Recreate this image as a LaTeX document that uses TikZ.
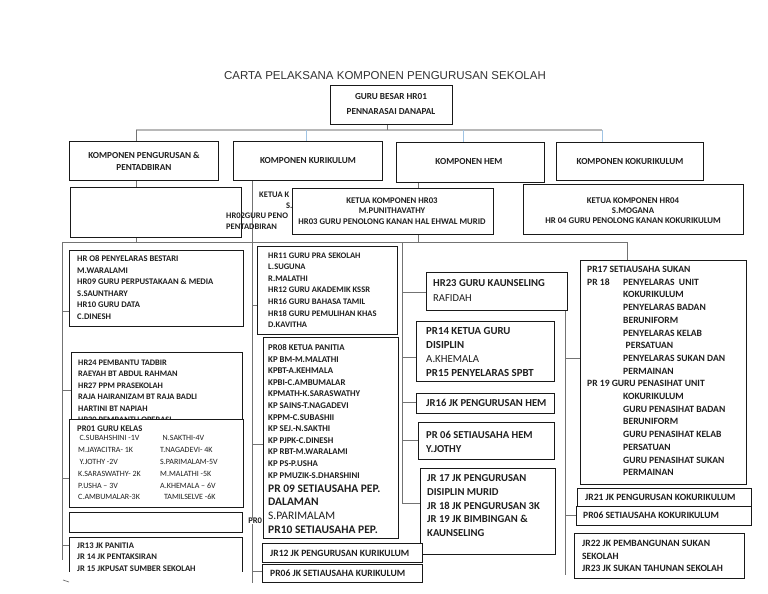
\documentclass[tikz,border=0pt]{standalone}
\usepackage{fontspec}
\setmainfont{Carlito}
\newfontfamily\titlefont{Liberation Sans}
\definecolor{lb}{RGB}{160,196,228}
\newcommand\myfs[2]{\fontsize{#1}{#2}\selectfont}
\pgfdeclarelayer{bg}
\pgfdeclarelayer{paper}
\pgfsetlayers{paper,bg,main}
\tikzset{
  bx/.style={draw=black!90, line width=0.9pt, fill=white, inner sep=0pt, anchor=north west},
  conn/.style={draw=black!55, line width=0.7pt},
  topline/.style={draw=black!28, line width=1.6pt},
  blueline/.style={draw=lb, line width=0.8pt},
  tl/.style={anchor=north west, inner sep=0pt, align=left, text=black!88},
  tc/.style={inner sep=0pt, align=center, text=black!88},
  t1/.style={anchor=west, inner sep=0pt, text=black!88},
}
\begin{document}
\begin{tikzpicture}[x=1pt,y=-1pt]
\begin{pgfonlayer}{paper}
\fill[white] (0,0) rectangle (768,594);
\end{pgfonlayer}
\useasboundingbox (0,0) rectangle (768,594);

% title
\node[text=black!80, inner sep=0pt, font=\titlefont\fontsize{11.5}{14}\selectfont] (title) at (385,76) {CARTA PELAKSANA KOMPONEN PENGURUSAN SEKOLAH};

% guru besar
\node[bx, minimum width=122pt, minimum height=39pt] (gb) at (330,85) {};
\node[tc, font=\myfs{9.2}{15}\bfseries] (gbt) at (391,104.5) {GURU BESAR HR01\\PENNARASAI DANAPAL};

% components
\node[bx, minimum width=149pt, minimum height=39pt] (kpp) at (69,141) {};
\node[tc, font=\myfs{9.2}{12}\bfseries] (kppt) at (144,161) {KOMPONEN PENGURUSAN \&\\PENTADBIRAN};
\node[bx, minimum width=149pt, minimum height=39pt] (kk) at (233,141) {};
\node[tc, font=\myfs{9.2}{12}\bfseries] (kkt) at (308,161) {KOMPONEN KURIKULUM};
\node[bx, minimum width=148pt, minimum height=40pt] (khem) at (396,142) {};
\node[tc, font=\myfs{9.2}{12}\bfseries] (khemt) at (469,162) {KOMPONEN HEM};
\node[bx, minimum width=147pt, minimum height=38pt] (kko) at (556,142) {};
\node[tc, font=\myfs{9.2}{12}\bfseries] (kkot) at (630,162) {KOMPONEN KOKURIKULUM};

% row 2
\node[bx, minimum width=171pt, minimum height=50pt] (eb) at (70,187) {};
\node[t1, font=\myfs{8.5}{10}\bfseries] (k2a) at (259,195) {KETUA K};
\node[t1, font=\myfs{8.5}{10}\bfseries] (k2b) at (286,206) {S.};
\node[t1, font=\myfs{8.5}{10}\bfseries] (k2c) at (226,216) {HR02GURU PENO};
\node[t1, font=\myfs{8.5}{10}\bfseries] (k2d) at (226,227) {PENTADBIRAN};
\node[bx, minimum width=201pt, minimum height=46pt] (hr03) at (292,188) {};
\node[tc, anchor=north, font=\myfs{8.7}{10.5}\bfseries] (hr03t) at (392,197.3) {KETUA KOMPONEN HR03\\M.PUNITHAVATHY\\HR03 GURU PENOLONG KANAN HAL EHWAL MURID};
\node[bx, minimum width=220pt, minimum height=50pt] (hr04) at (523,184) {};
\node[tc, anchor=north, font=\myfs{8.8}{10}\bfseries] (hr04t) at (633,197.2) {KETUA KOMPONEN HR04\\S.MOGANA\\HR 04 GURU PENOLONG KANAN KOKURIKULUM};

% pentadbiran column
\node[bx, minimum width=174pt, minimum height=76pt] (hr08) at (69,250) {};
\node[tl, font=\myfs{8.6}{11.6}\bfseries] (hr08t) at (77,255.3) {HR O8 PENYELARAS BESTARI\\M.WARALAMI\\HR09 GURU PERPUSTAKAAN \& MEDIA\\S.SAUNTHARY\\HR10 GURU DATA\\C.DINESH};
\node[bx, minimum width=171pt, minimum height=80pt] (hr24) at (71,352) {};
\node[tl, font=\myfs{8.4}{11.5}\bfseries] (hr24t) at (78,359.3) {HR24 PEMBANTU TADBIR\\RAEYAH BT ABDUL RAHMAN\\HR27 PPM PRASEKOLAH\\RAJA HAIRANIZAM BT RAJA BADLI\\HARTINI BT NAPIAH\\HR30 PEMBANTU OPERASI};
\node[bx, minimum width=174pt, minimum height=88pt] (pr01) at (69,419) {};
\node[tl, font=\myfs{8.6}{11}\bfseries] (pr01h) at (77,425.3) {PR01 GURU KELAS};
\node[tl, font=\myfs{8}{11.8}\mdseries] (pr01a) at (78,435.5) {\hspace*{1.5pt}C.SUBAHSHINI -1V\\M.JAYACITRA- 1K\\\hspace*{1.5pt}Y.JOTHY -2V\\K.SARASWATHY- 2K\\P.USHA -- 3V\\C.AMBUMALAR-3K};
\node[tl, font=\myfs{8}{11.8}\mdseries] (pr01b) at (160,435.5) {\hspace*{2.5pt}N.SAKTHI-4V\\T.NAGADEVI- 4K\\S.PARIMALAM-5V\\M.MALATHI -5K\\A.KHEMALA -- 6V\\\hspace*{4pt}TAMILSELVE -6K};
\node[bx, minimum width=173pt, minimum height=20pt] (eb2) at (69,512) {};
\begin{scope}
\clip (0,0) rectangle (768,571);
\node[bx, minimum width=173pt, minimum height=45pt] (jr13) at (69,537) {};
\node[tl, font=\myfs{8.6}{11.7}\bfseries] (jr13t) at (77,542.3) {JR13 JK PANITIA\\JR 14 JK PENTAKSIRAN\\JR 15 JKPUSAT SUMBER SEKOLAH};
\end{scope}

% kurikulum column
\node[bx, minimum width=140pt, minimum height=88pt] (hr11) at (257,246) {};
\node[tl, font=\myfs{8.5}{11.6}\bfseries] (hr11t) at (268,252.3) {HR11 GURU PRA SEKOLAH\\L.SUGUNA\\R.MALATHI\\HR12 GURU AKADEMIK KSSR\\HR16 GURU BAHASA TAMIL\\HR18 GURU PEMULIHAN KHAS\\D.KAVITHA};
\node[t1, fill=white, inner sep=0.6pt, font=\myfs{8.6}{10}\bfseries] (pr0) at (247.5,521) {PR0};
\node[bx, minimum width=135pt, minimum height=201pt] (pr08) at (263,337) {};
\node[tl, font=\myfs{8.8}{11.6}\bfseries] (pr08t) at (268,344.2) {PR08 KETUA PANITIA\\KP BM-M.MALATHI\\KPBT-A.KEHMALA\\KPBI-C.AMBUMALAR\\KPMATH-K.SARASWATHY\\KP SAINS-T.NAGADEVI\\KPPM-C.SUBASHII\\KP SEJ.-N.SAKTHI\\KP PJPK-C.DINESH\\KP RBT-M.WARALAMI\\KP PS-P.USHA\\KP PMUZIK-S.DHARSHINI};
\node[tl, font=\myfs{11.5}{13.7}\bfseries] (pr09t) at (268,484.4) {PR 09 SETIAUSAHA PEP.\\DALAMAN\\{\mdseries S.PARIMALAM}\\PR10 SETIAUSAHA PEP.};

% hem column
\node[bx, minimum width=141pt, minimum height=38pt] (hr23) at (426,272) {};
\node[tl, font=\myfs{10.6}{15}\bfseries] (hr23t) at (433,279.6) {HR23 GURU KAUNSELING\\{\mdseries RAFIDAH}};
\node[bx, minimum width=138pt, minimum height=60pt] (pr14) at (416,321) {};
\node[tl, font=\myfs{10.8}{14}\bfseries] (pr14t) at (426,327.6) {PR14 KETUA GURU\\DISIPLIN\\{\mdseries A.KHEMALA}\\PR15 PENYELARAS SPBT};
\node[bx, minimum width=138pt, minimum height=20pt] (jr16) at (416,393) {};
\node[t1, font=\myfs{10.6}{13}\bfseries] (jr16t) at (426,403) {JR16 JK PENGURUSAN HEM};
\node[bx, minimum width=136pt, minimum height=37pt] (pr06h) at (418,422) {};
\node[tl, font=\myfs{10.6}{14}\bfseries] (pr06ht) at (426,430.6) {PR 06 SETIAUSAHA HEM\\Y.JOTHY};
\node[bx, minimum width=135pt, minimum height=86pt] (jr17) at (420,468) {};
\node[tl, font=\myfs{10.6}{13.7}\bfseries] (jr17t) at (427,474.6) {JR 17 JK PENGURUSAN\\DISIPLIN MURID\\JR 18 JK PENGURUSAN 3K\\JR 19 JK BIMBINGAN \&\\KAUNSELING};

\node[bx, minimum width=160pt, minimum height=19pt] (jr12) at (262,543) {};
\node[t1, font=\myfs{9.6}{12}\bfseries] (jr12t) at (270,553) {JR12 JK PENGURUSAN KURIKULUM};
\node[bx, minimum width=160pt, minimum height=18pt] (pr06k) at (262,564) {};
\node[t1, font=\myfs{9.6}{12}\bfseries] (pr06kt) at (270,573) {PR06 JK SETIAUSAHA KURIKULUM};

% kokurikulum column
\node[bx, minimum width=166pt, minimum height=224pt] (pr17) at (580,260) {};
\node[tl, font=\myfs{9.6}{12.7}\bfseries] (pr17t) at (587,266) {PR17 SETIAUSAHA SUKAN\\
\makebox[36pt][l]{PR 18}PENYELARAS\ \ UNIT\\
\hspace*{36pt}KOKURIKULUM\\
\hspace*{36pt}PENYELARAS BADAN\\
\hspace*{36pt}BERUNIFORM\\
\hspace*{36pt}PENYELARAS KELAB\\
\hspace*{38.5pt}PERSATUAN\\
\hspace*{36pt}PENYELARAS SUKAN DAN\\
\hspace*{36pt}PERMAINAN\\
PR 19 GURU PENASIHAT UNIT\\
\hspace*{36pt}KOKURIKULUM\\
\hspace*{36pt}GURU PENASIHAT BADAN\\
\hspace*{36pt}BERUNIFORM\\
\hspace*{36pt}GURU PENASIHAT KELAB\\
\hspace*{36pt}PERSATUAN\\
\hspace*{36pt}GURU PENASIHAT SUKAN\\
\hspace*{36pt}PERMAINAN};
\node[bx, minimum width=174pt, minimum height=18pt] (jr21) at (577,488) {};
\node[t1, font=\myfs{9.6}{12}\bfseries] (jr21t) at (585,497) {JR21 JK PENGURUSAN KOKURIKULUM};
\node[bx, minimum width=175pt, minimum height=19pt] (pr06o) at (576,506) {};
\node[t1, font=\myfs{9.6}{12}\bfseries] (pr06ot) at (583,515.5) {PR06 SETIAUSAHA KOKURIKULUM};
\node[bx, minimum width=170pt, minimum height=45pt] (jr22) at (574,533) {};
\node[tl, font=\myfs{9.6}{12.5}\bfseries] (jr22t) at (582,540) {JR22 JK PEMBANGUNAN SUKAN\\SEKOLAH\\JR23 JK SUKAN TAHUNAN SEKOLAH};

% connectors
\begin{pgfonlayer}{bg}
\coordinate (g0) at (387,130);
\coordinate (h1) at (136,130);
\coordinate (h2) at (602,130);
\coordinate (b1) at (306,130);
\coordinate (b2) at (463,130);
\draw[topline] (h1) -- (h2);
\draw[conn] (g0 |- gb.south) -- (g0);
\draw[conn] (h1) -- (h1 |- kpp.north);
\draw[blueline] (b1) -- (b1 |- kk.north);
\draw[blueline] (b2) -- (b2 |- khem.north);
\draw[blueline] (h2) -- (h2 |- kko.north);
\coordinate (busL) at (62,242);
\coordinate (busR) at (627,242);
\coordinate (v1) at (136,242);
\coordinate (vh) at (418.5,242);
\draw[conn] (busL) -- (busR);
\draw[conn] (busR) -- (busR |- pr17.north);
\draw[conn] (v1 |- kpp.south) -- (v1 |- eb.north);
\draw[conn] (v1 |- eb.south) -- (v1);
\draw[conn] (vh |- khem.south) -- (vh |- hr03.north);
\draw[conn] (vh |- hr03.south) -- (vh);
% trunks
\coordinate (trL) at (62,560);
\coordinate (trK) at (252,583);
\coordinate (trH) at (402,503);
\coordinate (trO0) at (565,310);
\coordinate (trO1) at (565,575);
\draw[conn] (busL) -- (trL);
\draw[conn] (trK |- kk.south) -- (trK);
\draw[conn] (trH |- busL) -- (trH);
\draw[conn] (trO0) -- (trO1);
\coordinate (s1) at (63,580);
\coordinate (s2) at (69,582);
\draw[conn] (s1) -- (s2);
% branches
\foreach \yy/\tg in {311/hr08, 390/hr24, 478/pr01, 545/jr13}
  \draw[conn] (trL |- 0,\yy) -- (\tg.west |- 0,\yy);
\foreach \yy/\tg in {305/hr11, 444/pr08, 571/pr06k}
  \draw[conn] (trK |- 0,\yy) -- (\tg.west |- 0,\yy);
\foreach \yy/\tg in {292/hr23, 357/pr14, 402/jr16, 440/pr06h, 503/jr17}
  \draw[conn] (trH |- 0,\yy) -- (\tg.west |- 0,\yy);
\foreach \yy/\tg in {358/pr17, 515/pr06o}
  \draw[conn] (trO0 |- 0,\yy) -- (\tg.west |- 0,\yy);
\end{pgfonlayer}
\end{tikzpicture}
\end{document}
